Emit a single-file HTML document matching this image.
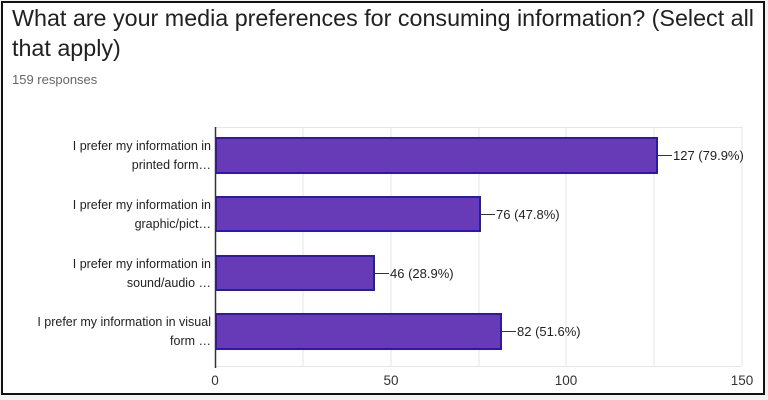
<!DOCTYPE html>
<html><head><style>
body{margin:0;width:768px;height:400px;background:#f2f2f2;overflow:hidden;font-family:"Liberation Sans",Arial,sans-serif}
.frame{position:absolute;left:1px;top:1px;width:760px;height:390px;border:2px solid #111;background:#fff}
.t{position:absolute;left:12px;top:3px;font-size:23.3px;line-height:30px;color:#212121;width:750px}
.r{position:absolute;left:12px;top:72px;font-size:13px;color:#666}
</style></head><body>
<div class="frame"></div>
<div class="t">What are your media preferences for consuming information? (Select all that apply)</div>
<div class="r">159 responses</div>
<svg width="768" height="400" style="position:absolute;left:0;top:0" font-family="Liberation Sans,Arial,sans-serif">
<g stroke="#e6e6e6" stroke-width="1">
<line x1="303" y1="127" x2="303" y2="366"/><line x1="391" y1="127" x2="391" y2="366"/><line x1="479" y1="127" x2="479" y2="366"/><line x1="566" y1="127" x2="566" y2="366"/><line x1="654" y1="127" x2="654" y2="366"/><line x1="742" y1="127" x2="742" y2="366"/>
<line x1="215" y1="127.5" x2="742" y2="127.5"/><line x1="215" y1="366.5" x2="742" y2="366.5"/>
</g>
<g fill="#673ab7" stroke="#2a1aa8" stroke-width="2">
<rect x="216" y="138" width="441" height="35"/>
<rect x="216" y="197" width="264" height="34"/>
<rect x="216" y="256" width="158" height="34"/>
<rect x="216" y="314" width="285" height="35"/>
</g>
<line x1="215.5" y1="127" x2="215.5" y2="368" stroke="#333" stroke-width="1.5"/>
<g stroke="#333"><line x1="658" y1="155.5" x2="672" y2="155.5"/><line x1="481" y1="214.5" x2="495" y2="214.5"/><line x1="375" y1="273.5" x2="389" y2="273.5"/><line x1="502" y1="331.5" x2="516" y2="331.5"/></g>
<g font-size="13" fill="#222">
<text x="673" y="160">127 (79.9%)</text><text x="496" y="219">76 (47.8%)</text><text x="390" y="278">46 (28.9%)</text><text x="517" y="336">82 (51.6%)</text>
</g>
<g font-size="12.5" fill="#222" text-anchor="end">
<text x="211" y="150">I prefer my information in</text><text x="211" y="169">printed form…</text>
<text x="211" y="209">I prefer my information in</text><text x="211" y="228">graphic/pict…</text>
<text x="211" y="268">I prefer my information in</text><text x="211" y="287">sound/audio …</text>
<text x="211" y="326">I prefer my information in visual</text><text x="211" y="345">form …</text>
</g>
<g font-size="13.5" fill="#333" text-anchor="middle">
<text x="215" y="385">0</text><text x="391" y="385">50</text><text x="566" y="385">100</text><text x="742" y="385">150</text>
</g>
</svg>
</body></html>
